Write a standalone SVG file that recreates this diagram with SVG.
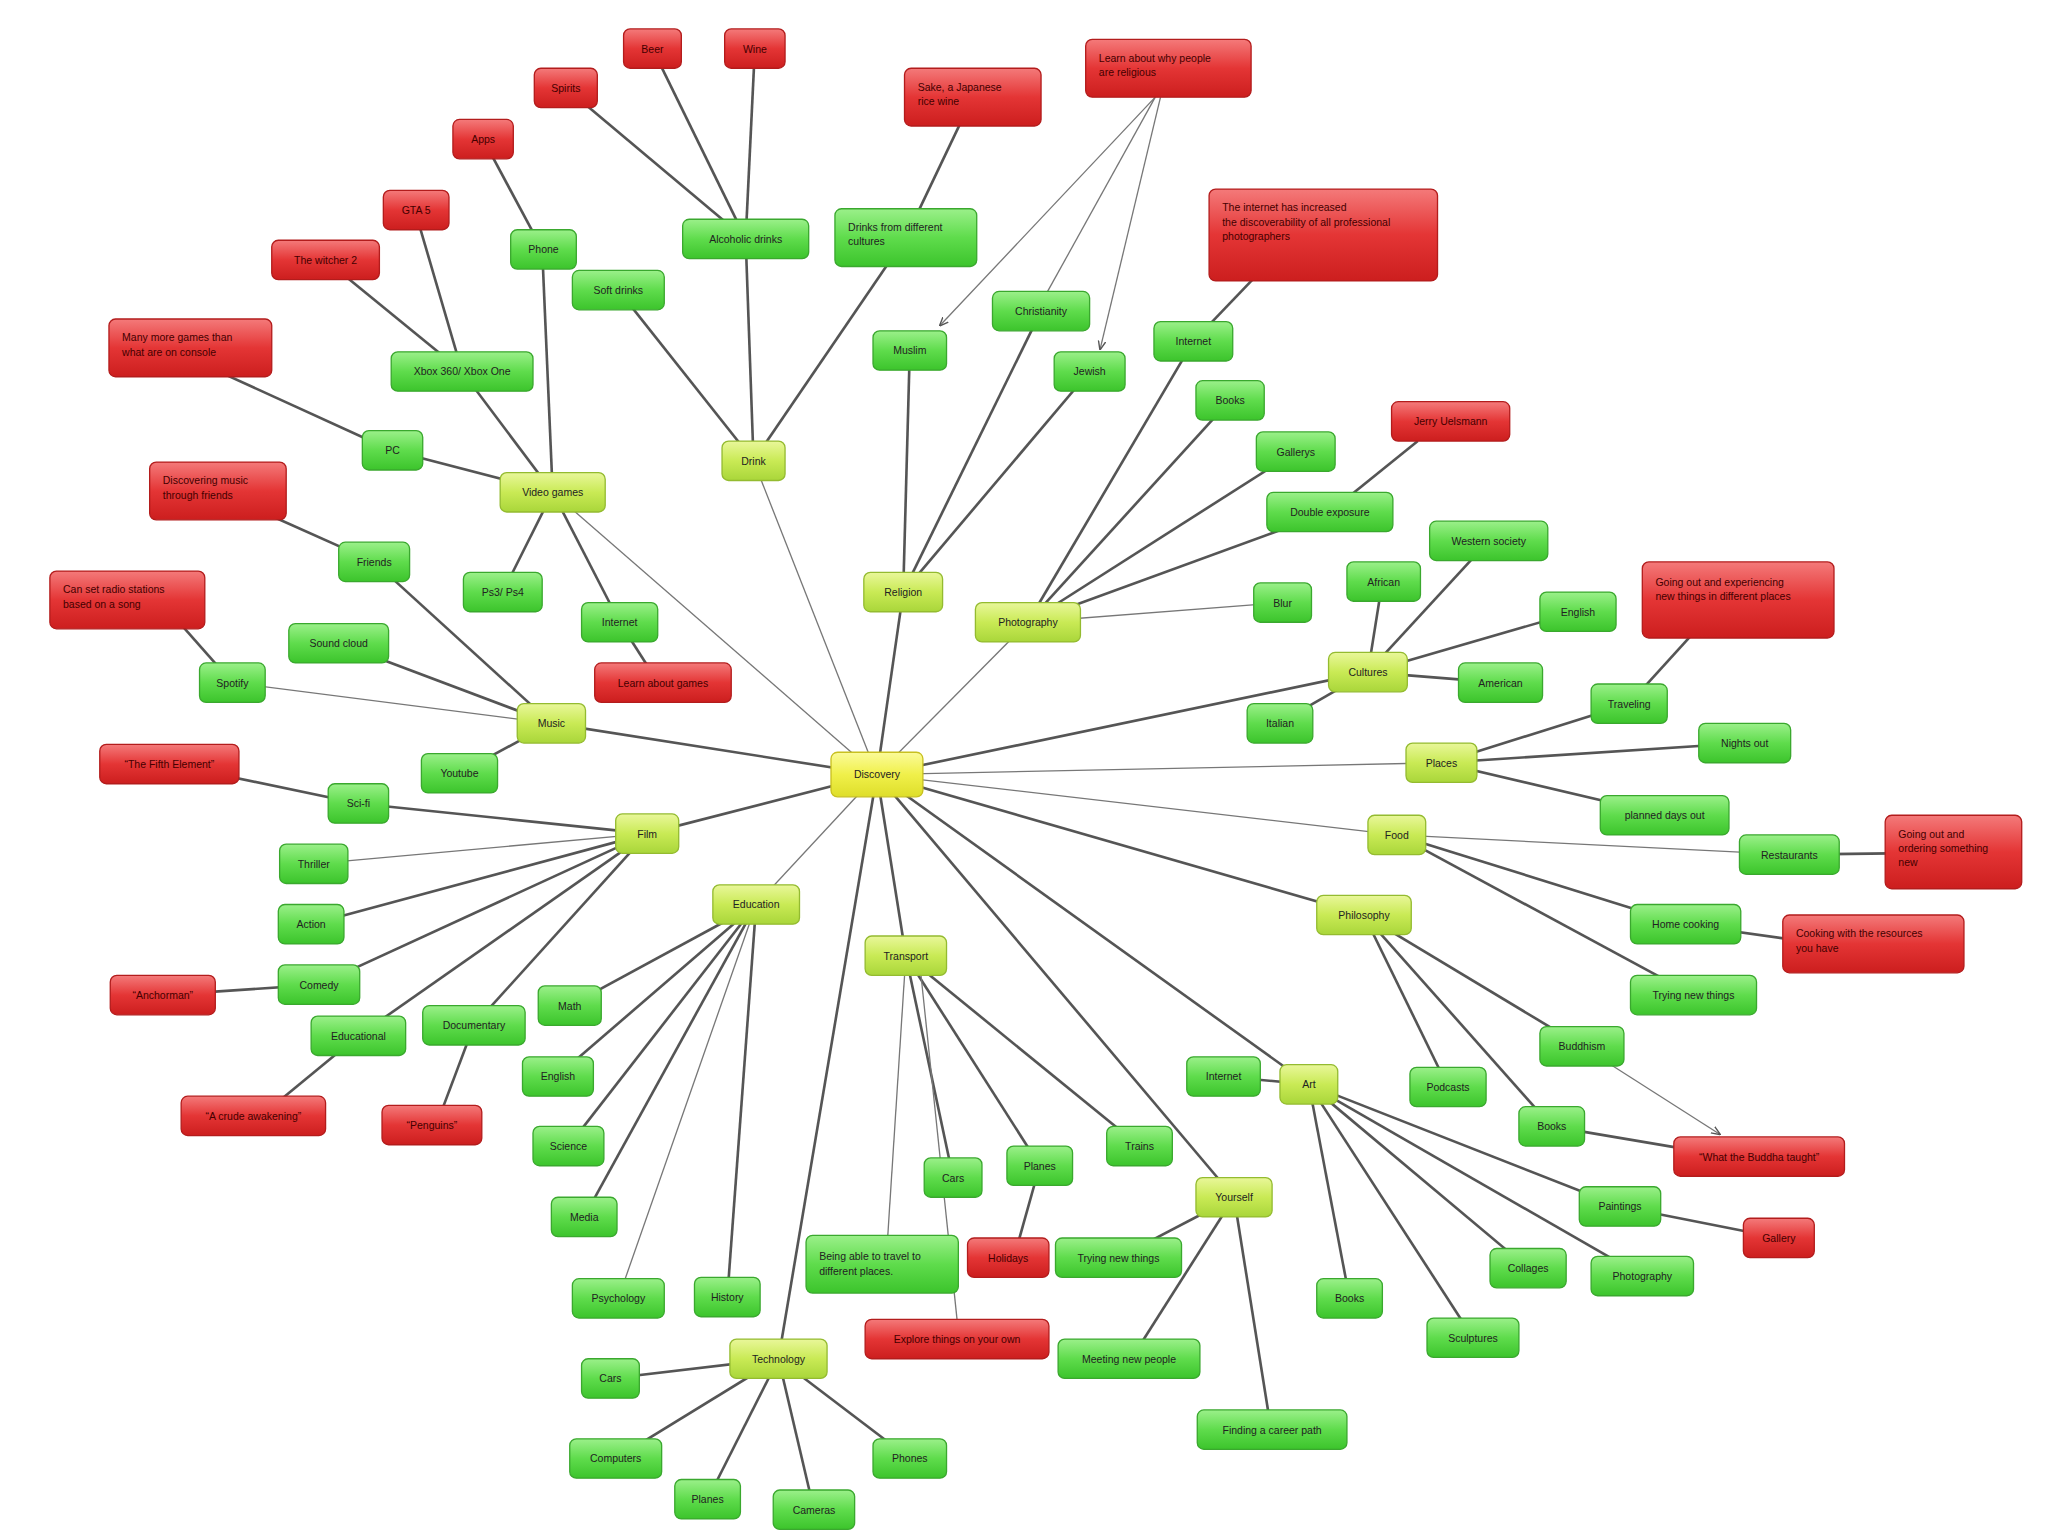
<svg xmlns="http://www.w3.org/2000/svg" width="2048" height="1536" viewBox="0 0 2048 1536">
<defs>
<linearGradient id="gG" x1="0" y1="0" x2="0" y2="1"><stop offset="0" stop-color="#9bf08a"/><stop offset="0.5" stop-color="#5fdc4c"/><stop offset="1" stop-color="#3cc42c"/></linearGradient>
<linearGradient id="gR" x1="0" y1="0" x2="0" y2="1"><stop offset="0" stop-color="#f47a7a"/><stop offset="0.5" stop-color="#e43535"/><stop offset="1" stop-color="#cc1e1e"/></linearGradient>
<linearGradient id="gY" x1="0" y1="0" x2="0" y2="1"><stop offset="0" stop-color="#e9f79a"/><stop offset="0.5" stop-color="#c9ea55"/><stop offset="1" stop-color="#a9d63a"/></linearGradient>
<linearGradient id="gC" x1="0" y1="0" x2="0" y2="1"><stop offset="0" stop-color="#fbfb9a"/><stop offset="0.5" stop-color="#f0f04a"/><stop offset="1" stop-color="#dede2a"/></linearGradient>
<marker id="ar" viewBox="0 0 10 10" refX="9" refY="5" markerWidth="7" markerHeight="7" orient="auto"><path d="M0,1 L10,5 L0,9" fill="none" stroke="#555" stroke-width="1.5"/></marker>
</defs>
<style>
rect{rx:5;ry:5;stroke-width:1}
.g rect{fill:url(#gG);stroke:#3aa82e}
.r rect{fill:url(#gR);stroke:#b31c1c}
.y rect{fill:url(#gY);stroke:#94bb30}
.c rect{fill:url(#gC);stroke:#c8c020}
text{font-family:"Liberation Sans",Arial,sans-serif;font-size:8px;fill:#222}
.r text{fill:#400}
#edges line{stroke:#555;stroke-width:2}
#edges line.t{stroke-width:1;stroke:#777}
</style>
<rect x="0" y="0" width="2048" height="1536" fill="#fff" style="rx:0"/>
<g transform="scale(1.3128)">
<g id="edges">
<!-- discovery -->
<line class="t" x1="668" y1="590" x2="574" y2="351"/>
<line x1="668" y1="590" x2="688" y2="451"/>
<line class="t" x1="668" y1="590" x2="783" y2="474"/>
<line class="t" x1="668" y1="590" x2="421" y2="375"/>
<line x1="668" y1="590" x2="420" y2="551"/>
<line x1="668" y1="590" x2="493" y2="635"/>
<line class="t" x1="668" y1="590" x2="576" y2="689"/>
<line x1="668" y1="590" x2="690" y2="728"/>
<line x1="668" y1="590" x2="940" y2="912"/>
<line x1="668" y1="590" x2="997" y2="826"/>
<line x1="668" y1="590" x2="1039" y2="697"/>
<line class="t" x1="668" y1="590" x2="1064" y2="636"/>
<line class="t" x1="668" y1="590" x2="1098" y2="581"/>
<line x1="668" y1="590" x2="1042" y2="512"/>
<line x1="668" y1="590" x2="593" y2="1035"/>
<!-- drink -->
<line x1="574" y1="351" x2="568" y2="182"/>
<line x1="574" y1="351" x2="471" y2="221"/>
<line x1="574" y1="351" x2="690" y2="181"/>
<line x1="568" y1="182" x2="497" y2="37"/>
<line x1="568" y1="182" x2="575" y2="37"/>
<line x1="568" y1="182" x2="431" y2="67"/>
<line x1="690" y1="181" x2="741" y2="74"/>
<!-- religion -->
<line x1="688" y1="451" x2="693" y2="267"/>
<line x1="688" y1="451" x2="793" y2="237"/>
<line x1="688" y1="451" x2="830" y2="283"/>
<line class="t" x1="880" y1="74" x2="716" y2="248" marker-end="url(#ar)"/>
<line class="t" x1="880" y1="74" x2="798" y2="222"/>
<line class="t" x1="884" y1="74" x2="838" y2="266" marker-end="url(#ar)"/>
<!-- photography -->
<line x1="783" y1="474" x2="909" y2="260"/>
<line x1="783" y1="474" x2="937" y2="305"/>
<line x1="783" y1="474" x2="987" y2="344"/>
<line x1="783" y1="474" x2="1013" y2="390"/>
<line class="t" x1="783" y1="474" x2="977" y2="459"/>
<line x1="909" y1="260" x2="955" y2="212"/>
<line x1="1013" y1="390" x2="1080" y2="336"/>
<!-- video games -->
<line x1="421" y1="375" x2="413" y2="190"/>
<line x1="421" y1="375" x2="352" y2="283"/>
<line x1="421" y1="375" x2="298" y2="343"/>
<line x1="421" y1="375" x2="383" y2="451"/>
<line x1="421" y1="375" x2="472" y2="474"/>
<line x1="413" y1="190" x2="368" y2="106"/>
<line x1="352" y1="283" x2="316" y2="160"/>
<line x1="352" y1="283" x2="248" y2="198"/>
<line x1="298" y1="343" x2="160" y2="280"/>
<line x1="472" y1="474" x2="495" y2="510"/>
<!-- music -->
<line x1="420" y1="551" x2="285" y2="428"/>
<line x1="420" y1="551" x2="258" y2="490"/>
<line class="t" x1="420" y1="551" x2="177" y2="520"/>
<line x1="420" y1="551" x2="350" y2="589"/>
<line x1="285" y1="428" x2="200" y2="390"/>
<line x1="177" y1="520" x2="140" y2="478"/>
<!-- film -->
<line x1="493" y1="635" x2="273" y2="612"/>
<line class="t" x1="493" y1="635" x2="239" y2="658"/>
<line x1="493" y1="635" x2="237" y2="704"/>
<line x1="493" y1="635" x2="243" y2="750"/>
<line x1="493" y1="635" x2="273" y2="789"/>
<line x1="493" y1="635" x2="361" y2="781"/>
<line x1="273" y1="612" x2="129" y2="582"/>
<line x1="243" y1="750" x2="124" y2="758"/>
<line x1="273" y1="789" x2="205" y2="845"/>
<line x1="361" y1="781" x2="335" y2="850"/>
<!-- education -->
<line x1="576" y1="689" x2="434" y2="766"/>
<line x1="576" y1="689" x2="424" y2="820"/>
<line x1="576" y1="689" x2="433" y2="873"/>
<line x1="576" y1="689" x2="445" y2="927"/>
<line class="t" x1="576" y1="689" x2="471" y2="989"/>
<line x1="576" y1="689" x2="554" y2="988"/>
<!-- transport -->
<line x1="690" y1="728" x2="726" y2="897"/>
<line x1="690" y1="728" x2="792" y2="888"/>
<line x1="690" y1="728" x2="868" y2="873"/>
<line class="t" x1="690" y1="728" x2="676" y2="945"/>
<line class="t" x1="700" y1="728" x2="729" y2="1005"/>
<line x1="792" y1="888" x2="776" y2="945"/>
<!-- yourself -->
<line x1="940" y1="912" x2="852" y2="958"/>
<line x1="940" y1="912" x2="870" y2="1022"/>
<line x1="940" y1="912" x2="966" y2="1075"/>
<!-- art -->
<line x1="997" y1="826" x2="932" y2="820"/>
<line x1="997" y1="826" x2="1028" y2="989"/>
<line x1="997" y1="826" x2="1122" y2="1019"/>
<line x1="997" y1="826" x2="1164" y2="966"/>
<line x1="997" y1="826" x2="1251" y2="972"/>
<line x1="997" y1="826" x2="1234" y2="919"/>
<line x1="1234" y1="919" x2="1340" y2="940"/>
<!-- philosophy -->
<line x1="1039" y1="697" x2="1103" y2="828"/>
<line x1="1039" y1="697" x2="1205" y2="797"/>
<line x1="1039" y1="697" x2="1182" y2="858"/>
<line x1="1182" y1="858" x2="1300" y2="878"/>
<line class="t" x1="1205" y1="797" x2="1310" y2="864" marker-end="url(#ar)"/>
<!-- food -->
<line class="t" x1="1064" y1="636" x2="1363" y2="651"/>
<line x1="1064" y1="636" x2="1282" y2="704"/>
<line x1="1064" y1="636" x2="1290" y2="758"/>
<line x1="1363" y1="651" x2="1440" y2="650"/>
<line x1="1282" y1="704" x2="1360" y2="715"/>
<!-- places -->
<line x1="1098" y1="581" x2="1241" y2="536"/>
<line x1="1098" y1="581" x2="1329" y2="566"/>
<line x1="1098" y1="581" x2="1268" y2="621"/>
<line x1="1241" y1="536" x2="1290" y2="482"/>
<!-- cultures -->
<line x1="1042" y1="512" x2="1053" y2="443"/>
<line x1="1042" y1="512" x2="1134" y2="412"/>
<line x1="1042" y1="512" x2="1201" y2="466"/>
<line x1="1042" y1="512" x2="1142" y2="520"/>
<line x1="1042" y1="512" x2="974" y2="551"/>
<!-- technology -->
<line x1="593" y1="1035" x2="465" y2="1050"/>
<line x1="593" y1="1035" x2="469" y2="1111"/>
<line x1="593" y1="1035" x2="539" y2="1142"/>
<line x1="593" y1="1035" x2="620" y2="1150"/>
<line x1="593" y1="1035" x2="693" y2="1111"/>
</g>
<g id="n-discovery" class="c"><rect x="633" y="573" width="70" height="34"/><text x="668" y="593" text-anchor="middle">Discovery</text></g>
<g id="n-drink" class="y"><rect x="550" y="336" width="48" height="30"/><text x="574" y="354" text-anchor="middle">Drink</text></g>
<g id="n-religion" class="y"><rect x="658" y="436" width="60" height="30"/><text x="688" y="454" text-anchor="middle">Religion</text></g>
<g id="n-photography" class="y"><rect x="743" y="459" width="80" height="30"/><text x="783" y="477" text-anchor="middle">Photography</text></g>
<g id="n-videogames" class="y"><rect x="381" y="360" width="80" height="30"/><text x="421" y="378" text-anchor="middle">Video games</text></g>
<g id="n-music" class="y"><rect x="394" y="536" width="52" height="30"/><text x="420" y="554" text-anchor="middle">Music</text></g>
<g id="n-film" class="y"><rect x="469" y="620" width="48" height="30"/><text x="493" y="638" text-anchor="middle">Film</text></g>
<g id="n-education" class="y"><rect x="543" y="674" width="66" height="30"/><text x="576" y="692" text-anchor="middle">Education</text></g>
<g id="n-transport" class="y"><rect x="659" y="713" width="62" height="30"/><text x="690" y="731" text-anchor="middle">Transport</text></g>
<g id="n-yourself" class="y"><rect x="911" y="897" width="58" height="30"/><text x="940" y="915" text-anchor="middle">Yourself</text></g>
<g id="n-art" class="y"><rect x="975" y="811" width="44" height="30"/><text x="997" y="829" text-anchor="middle">Art</text></g>
<g id="n-philosophy" class="y"><rect x="1003" y="682" width="72" height="30"/><text x="1039" y="700" text-anchor="middle">Philosophy</text></g>
<g id="n-food" class="y"><rect x="1042" y="621" width="44" height="30"/><text x="1064" y="639" text-anchor="middle">Food</text></g>
<g id="n-places" class="y"><rect x="1071" y="566" width="54" height="30"/><text x="1098" y="584" text-anchor="middle">Places</text></g>
<g id="n-cultures" class="y"><rect x="1012" y="497" width="60" height="30"/><text x="1042" y="515" text-anchor="middle">Cultures</text></g>
<g id="n-technology" class="y"><rect x="556" y="1020" width="74" height="30"/><text x="593" y="1038" text-anchor="middle">Technology</text></g>

<g id="n-alcoholic" class="g"><rect x="520" y="167" width="96" height="30"/><text x="568" y="185" text-anchor="middle">Alcoholic drinks</text></g>
<g id="n-softdrinks" class="g"><rect x="436" y="206" width="70" height="30"/><text x="471" y="224" text-anchor="middle">Soft drinks</text></g>
<g id="n-drinkscultures" class="g"><rect x="636" y="159" width="108" height="44"/><text x="646" y="176">Drinks from different<tspan x="646" dy="11">cultures</tspan></text></g>
<g id="n-beer" class="r"><rect x="475" y="22" width="44" height="30"/><text x="497" y="40" text-anchor="middle">Beer</text></g>
<g id="n-wine" class="r"><rect x="552" y="22" width="46" height="30"/><text x="575" y="40" text-anchor="middle">Wine</text></g>
<g id="n-spirits" class="r"><rect x="407" y="52" width="48" height="30"/><text x="431" y="70" text-anchor="middle">Spirits</text></g>
<g id="n-sake" class="r"><rect x="689" y="52" width="104" height="44"/><text x="699" y="69">Sake, a Japanese<tspan x="699" dy="11">rice wine</tspan></text></g>
<g id="n-muslim" class="g"><rect x="665" y="252" width="56" height="30"/><text x="693" y="270" text-anchor="middle">Muslim</text></g>
<g id="n-christianity" class="g"><rect x="756" y="222" width="74" height="30"/><text x="793" y="240" text-anchor="middle">Christianity</text></g>
<g id="n-jewish" class="g"><rect x="803" y="268" width="54" height="30"/><text x="830" y="286" text-anchor="middle">Jewish</text></g>
<g id="n-religious" class="r"><rect x="827" y="30" width="126" height="44"/><text x="837" y="47">Learn about why people<tspan x="837" dy="11">are religious</tspan></text></g>
<g id="n-pinternet" class="g"><rect x="879" y="245" width="60" height="30"/><text x="909" y="263" text-anchor="middle">Internet</text></g>
<g id="n-internetred" class="r"><rect x="921" y="144" width="174" height="70"/><text x="931" y="161">The internet has increased<tspan x="931" dy="11">the discoverability of all professional</tspan><tspan x="931" dy="11">photographers</tspan></text></g>
<g id="n-pbooks" class="g"><rect x="911" y="290" width="52" height="30"/><text x="937" y="308" text-anchor="middle">Books</text></g>
<g id="n-gallerys" class="g"><rect x="957" y="329" width="60" height="30"/><text x="987" y="347" text-anchor="middle">Gallerys</text></g>
<g id="n-double" class="g"><rect x="965" y="375" width="96" height="30"/><text x="1013" y="393" text-anchor="middle">Double exposure</text></g>
<g id="n-jerry" class="r"><rect x="1060" y="306" width="90" height="30"/><text x="1105" y="324" text-anchor="middle">Jerry Uelsmann</text></g>
<g id="n-blur" class="g"><rect x="955" y="444" width="44" height="30"/><text x="977" y="462" text-anchor="middle">Blur</text></g>
<g id="n-phone" class="g"><rect x="389" y="175" width="50" height="30"/><text x="414" y="193" text-anchor="middle">Phone</text></g>
<g id="n-apps" class="r"><rect x="345" y="91" width="46" height="30"/><text x="368" y="109" text-anchor="middle">Apps</text></g>
<g id="n-xbox" class="g"><rect x="298" y="268" width="108" height="30"/><text x="352" y="286" text-anchor="middle">Xbox 360/ Xbox One</text></g>
<g id="n-gta" class="r"><rect x="292" y="145" width="50" height="30"/><text x="317" y="163" text-anchor="middle">GTA 5</text></g>
<g id="n-witcher" class="r"><rect x="207" y="183" width="82" height="30"/><text x="248" y="201" text-anchor="middle">The witcher 2</text></g>
<g id="n-pc" class="g"><rect x="276" y="328" width="46" height="30"/><text x="299" y="346" text-anchor="middle">PC</text></g>
<g id="n-moregames" class="r"><rect x="83" y="243" width="124" height="44"/><text x="93" y="260">Many more games than<tspan x="93" dy="11">what are on console</tspan></text></g>
<g id="n-ps" class="g"><rect x="353" y="436" width="60" height="30"/><text x="383" y="454" text-anchor="middle">Ps3/ Ps4</text></g>
<g id="n-vinternet" class="g"><rect x="443" y="459" width="58" height="30"/><text x="472" y="477" text-anchor="middle">Internet</text></g>
<g id="n-learngames" class="r"><rect x="453" y="505" width="104" height="30"/><text x="505" y="523" text-anchor="middle">Learn about games</text></g>
<g id="n-friends" class="g"><rect x="258" y="413" width="54" height="30"/><text x="285" y="431" text-anchor="middle">Friends</text></g>
<g id="n-discmusic" class="r"><rect x="114" y="352" width="104" height="44"/><text x="124" y="369">Discovering music<tspan x="124" dy="11">through friends</tspan></text></g>
<g id="n-soundcloud" class="g"><rect x="220" y="475" width="76" height="30"/><text x="258" y="493" text-anchor="middle">Sound cloud</text></g>
<g id="n-spotify" class="g"><rect x="152" y="505" width="50" height="30"/><text x="177" y="523" text-anchor="middle">Spotify</text></g>
<g id="n-radio" class="r"><rect x="38" y="435" width="118" height="44"/><text x="48" y="452">Can set radio stations<tspan x="48" dy="11">based on a song</tspan></text></g>
<g id="n-youtube" class="g"><rect x="321" y="574" width="58" height="30"/><text x="350" y="592" text-anchor="middle">Youtube</text></g>
<g id="n-scifi" class="g"><rect x="250" y="597" width="46" height="30"/><text x="273" y="615" text-anchor="middle">Sci-fi</text></g>
<g id="n-fifth" class="r"><rect x="76" y="567" width="106" height="30"/><text x="129" y="585" text-anchor="middle">“The Fifth Element”</text></g>
<g id="n-thriller" class="g"><rect x="213" y="643" width="52" height="30"/><text x="239" y="661" text-anchor="middle">Thriller</text></g>
<g id="n-action" class="g"><rect x="212" y="689" width="50" height="30"/><text x="237" y="707" text-anchor="middle">Action</text></g>
<g id="n-comedy" class="g"><rect x="212" y="735" width="62" height="30"/><text x="243" y="753" text-anchor="middle">Comedy</text></g>
<g id="n-anchorman" class="r"><rect x="84" y="743" width="80" height="30"/><text x="124" y="761" text-anchor="middle">“Anchorman”</text></g>
<g id="n-educational" class="g"><rect x="237" y="774" width="72" height="30"/><text x="273" y="792" text-anchor="middle">Educational</text></g>
<g id="n-crude" class="r"><rect x="138" y="835" width="110" height="30"/><text x="193" y="853" text-anchor="middle">“A crude awakening”</text></g>
<g id="n-documentary" class="g"><rect x="322" y="766" width="78" height="30"/><text x="361" y="784" text-anchor="middle">Documentary</text></g>
<g id="n-penguins" class="r"><rect x="291" y="842" width="76" height="30"/><text x="329" y="860" text-anchor="middle">“Penguins”</text></g>
<g id="n-math" class="g"><rect x="410" y="751" width="48" height="30"/><text x="434" y="769" text-anchor="middle">Math</text></g>
<g id="n-english" class="g"><rect x="398" y="805" width="54" height="30"/><text x="425" y="823" text-anchor="middle">English</text></g>
<g id="n-science" class="g"><rect x="406" y="858" width="54" height="30"/><text x="433" y="876" text-anchor="middle">Science</text></g>
<g id="n-media" class="g"><rect x="420" y="912" width="50" height="30"/><text x="445" y="930" text-anchor="middle">Media</text></g>
<g id="n-psychology" class="g"><rect x="436" y="974" width="70" height="30"/><text x="471" y="992" text-anchor="middle">Psychology</text></g>
<g id="n-history" class="g"><rect x="529" y="973" width="50" height="30"/><text x="554" y="991" text-anchor="middle">History</text></g>
<g id="n-tcars" class="g"><rect x="704" y="882" width="44" height="30"/><text x="726" y="900" text-anchor="middle">Cars</text></g>
<g id="n-tplanes" class="g"><rect x="767" y="873" width="50" height="30"/><text x="792" y="891" text-anchor="middle">Planes</text></g>
<g id="n-holidays" class="r"><rect x="737" y="943" width="62" height="30"/><text x="768" y="961" text-anchor="middle">Holidays</text></g>
<g id="n-trains" class="g"><rect x="843" y="858" width="50" height="30"/><text x="868" y="876" text-anchor="middle">Trains</text></g>
<g id="n-travel" class="g"><rect x="614" y="941" width="116" height="44"/><text x="624" y="960">Being able to travel to<tspan x="624" dy="11">different places.</tspan></text></g>
<g id="n-explore" class="r"><rect x="659" y="1005" width="140" height="30"/><text x="729" y="1023" text-anchor="middle">Explore things on your own</text></g>
<g id="n-ytrying" class="g"><rect x="804" y="943" width="96" height="30"/><text x="852" y="961" text-anchor="middle">Trying new things</text></g>
<g id="n-meeting" class="g"><rect x="806" y="1020" width="108" height="30"/><text x="860" y="1038" text-anchor="middle">Meeting new people</text></g>
<g id="n-career" class="g"><rect x="912" y="1074" width="114" height="30"/><text x="969" y="1092" text-anchor="middle">Finding a career path</text></g>
<g id="n-ainternet" class="g"><rect x="904" y="805" width="56" height="30"/><text x="932" y="823" text-anchor="middle">Internet</text></g>
<g id="n-abooks" class="g"><rect x="1003" y="974" width="50" height="30"/><text x="1028" y="992" text-anchor="middle">Books</text></g>
<g id="n-sculptures" class="g"><rect x="1087" y="1004" width="70" height="30"/><text x="1122" y="1022" text-anchor="middle">Sculptures</text></g>
<g id="n-collages" class="g"><rect x="1135" y="951" width="58" height="30"/><text x="1164" y="969" text-anchor="middle">Collages</text></g>
<g id="n-aphoto" class="g"><rect x="1212" y="957" width="78" height="30"/><text x="1251" y="975" text-anchor="middle">Photography</text></g>
<g id="n-paintings" class="g"><rect x="1203" y="904" width="62" height="30"/><text x="1234" y="922" text-anchor="middle">Paintings</text></g>
<g id="n-gallery" class="r"><rect x="1328" y="928" width="54" height="30"/><text x="1355" y="946" text-anchor="middle">Gallery</text></g>
<g id="n-podcasts" class="g"><rect x="1074" y="813" width="58" height="30"/><text x="1103" y="831" text-anchor="middle">Podcasts</text></g>
<g id="n-buddhism" class="g"><rect x="1173" y="782" width="64" height="30"/><text x="1205" y="800" text-anchor="middle">Buddhism</text></g>
<g id="n-phbooks" class="g"><rect x="1157" y="843" width="50" height="30"/><text x="1182" y="861" text-anchor="middle">Books</text></g>
<g id="n-buddha" class="r"><rect x="1275" y="866" width="130" height="30"/><text x="1340" y="884" text-anchor="middle">“What the Buddha taught”</text></g>
<g id="n-restaurants" class="g"><rect x="1325" y="636" width="76" height="30"/><text x="1363" y="654" text-anchor="middle">Restaurants</text></g>
<g id="n-ordering" class="r"><rect x="1436" y="621" width="104" height="56"/><text x="1446" y="638">Going out and<tspan x="1446" dy="11">ordering something</tspan><tspan x="1446" dy="11">new</tspan></text></g>
<g id="n-homecooking" class="g"><rect x="1242" y="689" width="84" height="30"/><text x="1284" y="707" text-anchor="middle">Home cooking</text></g>
<g id="n-resources" class="r"><rect x="1358" y="697" width="138" height="44"/><text x="1368" y="714">Cooking with the resources<tspan x="1368" dy="11">you have</tspan></text></g>
<g id="n-ftrying" class="g"><rect x="1242" y="743" width="96" height="30"/><text x="1290" y="761" text-anchor="middle">Trying new things</text></g>
<g id="n-traveling" class="g"><rect x="1212" y="521" width="58" height="30"/><text x="1241" y="539" text-anchor="middle">Traveling</text></g>
<g id="n-experiencing" class="r"><rect x="1251" y="428" width="146" height="58"/><text x="1261" y="446">Going out and experiencing<tspan x="1261" dy="11">new things in different places</tspan></text></g>
<g id="n-nightsout" class="g"><rect x="1294" y="551" width="70" height="30"/><text x="1329" y="569" text-anchor="middle">Nights out</text></g>
<g id="n-planned" class="g"><rect x="1219" y="606" width="98" height="30"/><text x="1268" y="624" text-anchor="middle">planned days out</text></g>
<g id="n-african" class="g"><rect x="1026" y="428" width="56" height="30"/><text x="1054" y="446" text-anchor="middle">African</text></g>
<g id="n-western" class="g"><rect x="1089" y="397" width="90" height="30"/><text x="1134" y="415" text-anchor="middle">Western society</text></g>
<g id="n-cenglish" class="g"><rect x="1173" y="451" width="58" height="30"/><text x="1202" y="469" text-anchor="middle">English</text></g>
<g id="n-american" class="g"><rect x="1111" y="505" width="64" height="30"/><text x="1143" y="523" text-anchor="middle">American</text></g>
<g id="n-italian" class="g"><rect x="950" y="536" width="50" height="30"/><text x="975" y="554" text-anchor="middle">Italian</text></g>
<g id="n-techcars" class="g"><rect x="443" y="1035" width="44" height="30"/><text x="465" y="1053" text-anchor="middle">Cars</text></g>
<g id="n-computers" class="g"><rect x="434" y="1096" width="70" height="30"/><text x="469" y="1114" text-anchor="middle">Computers</text></g>
<g id="n-techplanes" class="g"><rect x="514" y="1127" width="50" height="30"/><text x="539" y="1145" text-anchor="middle">Planes</text></g>
<g id="n-cameras" class="g"><rect x="589" y="1135" width="62" height="30"/><text x="620" y="1153" text-anchor="middle">Cameras</text></g>
<g id="n-phones" class="g"><rect x="665" y="1096" width="56" height="30"/><text x="693" y="1114" text-anchor="middle">Phones</text></g>
</g>
</svg>
